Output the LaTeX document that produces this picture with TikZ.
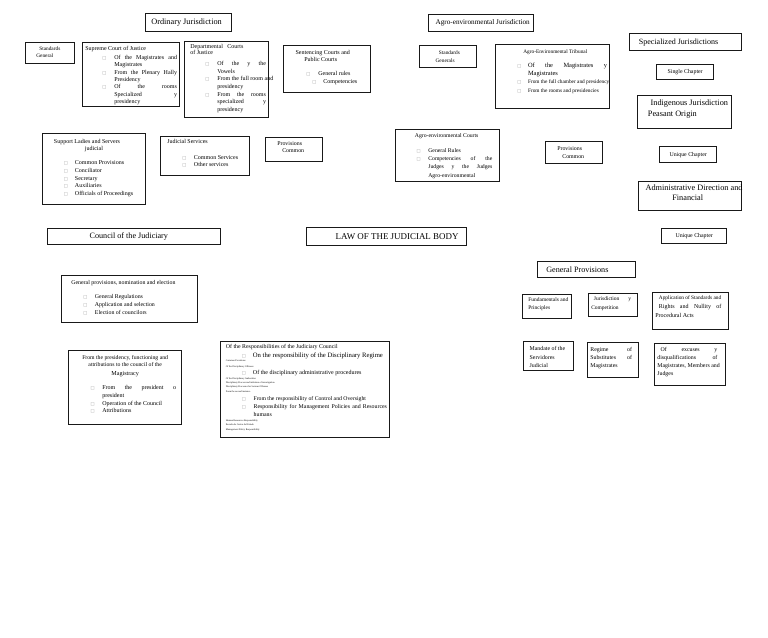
\documentclass[tikz,border=0pt]{standalone}
\usepackage{fontspec}
\setmainfont{Liberation Serif}
\newfontfamily\symf{DejaVu Sans}
\newdimen\pxu \pxu=0.75pt
\tolerance=10000 \hbadness=10000 \hfuzz=60pt \vbadness=10000 \vfuzz=60pt
\hyphenpenalty=10000 \exhyphenpenalty=10000 \lefthyphenmin=62
\newcommand\fs[2]{\fontsize{#1}{#2}\selectfont}
\newcommand\bul{{\symf\color{black!40}\fontsize{3.2}{3.2}\selectfont □}}
\newcommand\itm[3]{\par\hangindent=#2\pxu\hangafter=1\noindent\hspace*{#1\pxu}\makebox[\dimexpr#2\pxu-#1\pxu\relax][l]{\bul}#3\par}
\newcommand\tx[2]{\par\noindent\hspace*{#1\pxu}\mbox{#2}\par}
\newcommand\jl[2]{\par\noindent\hspace*{#1\pxu}#2\par}
\newcommand\ctr[1]{\par{\centering #1\par}}
\newcommand\gap[1]{\par\vspace*{#1\pxu}}
\newcommand\rs[1]{\rightskip=#1\pxu\relax}
\tikzset{boxst/.style={draw=black!90, line width=1pt, inner sep=2pt, anchor=north west, fill=white}}
\newcommand\bx[7]{\node[boxst] (#1) at (#2,#3) {\parbox[c][\dimexpr#5\pxu-4pt\relax][#6]{\dimexpr#4\pxu-4pt\relax}{#7}};}
\begin{document}
\begin{tikzpicture}[x=0.75pt,y=-0.75pt]
\fill[white] (0,0) rectangle (768,637);
\useasboundingbox (0,0) rectangle (768,637);
% ---------- top row ----------
\bx{ordj}{145}{13}{86}{18}{c}{\fs{6.2}{7.5}\tx{3}{Ordinary Jurisdiction}}
\bx{stdg}{25}{42}{49}{21}{t}{\fs{4}{5.5}\gap{1.2}\tx{11}{Standards}\tx{8}{General}}
\bx{supc}{82}{42}{97}{64}{t}{\fs{4.5}{5.5}\gap{0.7}\tx{0}{Supreme Court of Justice}\gap{2}\itm{17}{29}{Of the Magistrates and\linebreak Magistrates}\itm{17}{29}{From the Plenary Hally\linebreak Presidency}\itm{17}{29}{Of the rooms\linebreak Specialized y\linebreak presidency}}
\bx{dept}{184}{41}{84}{76}{t}{\fs{4.5}{4.2}\tx{3}{Departmental\hspace{3\pxu} Courts}\tx{3}{of Justice}\fs{4.5}{5.7}\gap{4}\itm{18}{30}{Of the y the\linebreak Vowels}\itm{18}{30}{\mbox{From the full room and}\linebreak presidency}\itm{18}{30}{From the rooms\linebreak specialized y\linebreak presidency}}
\bx{sent}{283}{45}{87}{47}{t}{\fs{4.5}{5.5}\gap{1.7}\tx{9.3}{Sentencing Courts and}\tx{18}{Public Courts}\gap{6.4}\itm{20}{32}{General rules}\gap{1}\itm{26}{37}{Competencies}}
\bx{agroj}{428}{14}{105}{17}{c}{\fs{5.4}{6.5}\tx{4.3}{Agro-environmental Jurisdiction}}
\bx{stdg2}{419}{45}{57}{22}{t}{\fs{4}{6.3}\gap{2.5}\tx{16.6}{Standards}\tx{13.3}{Generals}}
\bx{agrot}{495}{44}{114}{64}{t}{\fs{4}{5}\gap{2.9}\tx{25}{Agro-Environmental Tribunal}\gap{6.4}\fs{4.8}{5.7}\itm{19}{29.7}{Of the Magistrates y\linebreak Magistrates}\fs{4}{6.2}\itm{19}{29.7}{\mbox{From the full chamber and presidency}}\itm{19}{29.7}{From the rooms and presidencies}}
% ---------- right column ----------
\bx{spec}{629}{33}{112}{17}{c}{\fs{6}{7}\tx{6.6}{Specialized Jurisdictions}}
\bx{sing}{656}{64}{57}{15}{c}{\fs{4.4}{5}\ctr{Single Chapter}}
\bx{indi}{637}{95}{94}{33}{t}{\fs{6.2}{8}\gap{1.8}\tx{10.3}{Indigenous Jurisdiction}\tx{7.6}{Peasant Origin}}
\bx{uniq1}{659}{146}{57}{16}{c}{\fs{4.4}{5}\ctr{Unique Chapter}}
\bx{admin}{638}{181}{103}{29}{t}{\fs{6.2}{7.8}\gap{0.4}\tx{4.3}{Administrative Direction and}\tx{31}{Financial}}
\bx{uniq2}{661}{228}{65}{15}{c}{\fs{4.4}{5}\ctr{Unique Chapter}}
% ---------- second row ----------
\bx{supp}{42}{133}{103}{71}{t}{\fs{4.5}{5.2}\gap{2.7}\tx{8.6}{Support Ladies and Servers}\tx{39.6}{judicial}\fs{4.5}{5.8}\gap{6.9}\itm{18.6}{29.6}{Common Provisions}\itm{18.6}{29.6}{Conciliator}\itm{18.6}{29.6}{Secretary}\itm{18.6}{29.6}{Auxiliaries}\itm{18.6}{29.6}{Officials of Proceedings}}
\bx{jserv}{160}{136}{89}{39}{t}{\fs{4.5}{5.7}\tx{4}{Judicial Services}\gap{8}\itm{19}{30.6}{Common Services}\itm{19}{30.6}{Other services}}
\bx{prov1}{265}{137}{57}{24}{t}{\fs{4.4}{5}\gap{1.3}\tx{9}{Provisions}\tx{14}{Common}}
\bx{agroc}{395}{129}{104}{52}{t}{\fs{4.3}{6.2}\rs{4.6}\gap{1.1}\tx{16.6}{Agro-environmental Courts}\gap{6.7}\itm{18.3}{30}{General Rules}\itm{18.3}{30}{Competencies of the\linebreak Judges y the Judges\linebreak Agro-environmental}}
\bx{prov2}{545}{141}{57}{22}{t}{\fs{4.4}{6.3}\gap{2.3}\tx{9}{Provisions}\tx{14}{Common}}
% ---------- middle ----------
\bx{counc}{47}{228}{173}{16}{c}{\fs{6.1}{7}\tx{39.3}{Council of the Judiciary}}
\bx{law}{306}{227}{160}{18}{c}{\fs{6.7}{8}\tx{26.3}{LAW OF THE JUDICIAL BODY}}
\bx{gpn}{61}{275}{136}{47}{t}{\fs{4.4}{6}\gap{1.7}\tx{7}{General provisions, nomination and election}\gap{6.1}\itm{19}{30.6}{General Regulations}\itm{19}{30.6}{Application and selection}\itm{19}{30.6}{Election of councilors}}
\bx{genp}{537}{261}{98}{16}{c}{\fs{6.1}{7}\tx{6}{General Provisions}}
\bx{fund}{522}{294}{49}{24}{t}{\fs{4.1}{6.2}\gap{0.2}\tx{3}{Fundamentals and}\tx{3}{Principles}}
\bx{juris}{588}{293}{49}{23}{t}{\fs{4.1}{6.3}\rs{4}\gap{0.5}\jl{2.6}{Jurisdiction y\linebreak Competition}}
\bx{appl}{652}{292}{76}{37}{t}{\fs{4}{5}\rs{4.6}\gap{0.9}\tx{3.6}{Application of Standards and}\fs{4.5}{6.5}\jl{3.6}{Rights and Nullity of\linebreak Procedural Acts}}
\bx{mand}{523}{341}{50}{29}{t}{\fs{4.4}{6.2}\gap{2.3}\tx{3.3}{Mandate of the}\tx{3.3}{Servidores}\tx{3.3}{Judicial}}
\bx{regi}{587}{342}{51}{35}{t}{\fs{4.4}{6}\rs{4}\gap{2.3}\jl{0}{Regime of\linebreak Substitutes of\linebreak Magistrates}}
\bx{excu}{654}{343}{71}{42}{t}{\fs{4.4}{6}\rs{5.6}\gap{1.3}\jl{3.3}{Of excuses y\linebreak disqualifications of\linebreak \mbox{Magistrates, Members and}\linebreak Judges}}
% ---------- bottom ----------
\bx{pres}{68}{350}{113}{74}{t}{\fs{4.3}{5}\rs{3}\gap{2.4}\ctr{From the presidency, functioning and}\ctr{attributions to the council of the}\fs{4.6}{6.5}\ctr{Magistracy}\fs{4.5}{5.8}\gap{6.9}\itm{19.3}{31}{From the president o\linebreak president}\itm{19.3}{31}{Operation of the Council}\itm{19.3}{31}{Attributions}}
\bx{resp}{220}{341}{169}{96}{t}{%
\fs{4.4}{5}\tx{2.6}{Of the Responsibilities of the Judiciary Council}%
\fs{5}{6.5}\itm{18.6}{29.6}{On the responsibility of the Disciplinary Regime}%
\fs{1.8}{3.5}\tx{2.6}{Common Provisions}%
\fs{1.8}{4.5}\tx{2.6}{Of the Disciplinary Offenses}%
\fs{4.5}{5.3}\itm{18.6}{29.6}{Of the disciplinary administrative procedures}%
\fs{1.8}{3.5}\tx{2.6}{Of the Disciplinary Authorities}%
\fs{1.8}{3}\tx{2.6}{Disciplinary Process and initiation of investigation}%
\fs{1.8}{3.3}\tx{2.6}{Disciplinary Processes for Serious Offenses}%
\fs{1.8}{3.2}\tx{2.6}{From the second instance}%
\fs{4.3}{6.5}\itm{18.6}{30.3}{From the responsibility of Control and Oversight}%
\fs{4.4}{6}\itm{18.6}{30.3}{Responsibility for Management Policies and Resources\linebreak humans}%
\fs{1.8}{3.2}\tx{2.6}{Human Resources Responsibility}%
\fs{1.8}{3}\tx{2.6}{Escuela de Gestor del Estado}%
\fs{1.8}{3.8}\tx{2.6}{Management Policy Responsibility}}
\end{tikzpicture}
\end{document}
